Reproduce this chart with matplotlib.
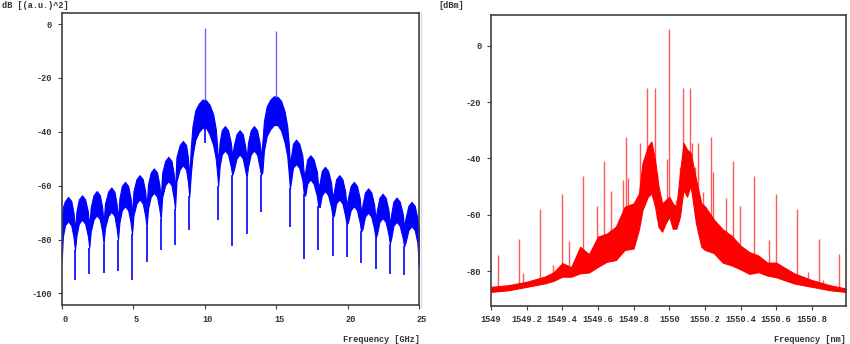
import numpy as np
import matplotlib
matplotlib.use('Agg')
import matplotlib.pyplot as plt
import matplotlib.transforms as mtransforms
from matplotlib.lines import Line2D

# RF spectrum (left): envelope of the noisy band at nulls, shoulders and lobe peaks
blue_freq = [
    0.00, 0.08, 0.23, 0.45, 0.67, 0.83, 0.93,
    1.03, 1.20, 1.42, 1.64, 1.83, 1.93,
    2.03, 2.23, 2.45, 2.67, 2.83, 2.93,
    3.03, 3.25, 3.47, 3.69, 3.84, 3.94,
    4.04, 4.21, 4.43, 4.65, 4.82, 4.92,
    5.02, 5.23, 5.45, 5.67, 5.84, 5.94,
    6.04, 6.23, 6.45, 6.67, 6.83, 6.93,
    7.03, 7.24, 7.46, 7.68, 7.83, 7.93,
    8.03, 8.26, 8.48, 8.70, 8.83, 8.93,
    9.03, 9.15, 9.35, 9.60, 9.85, 10.10, 10.35, 10.60, 10.78, 10.87, 10.95,
    11.05, 11.20, 11.42, 11.64, 11.83, 11.93,
    12.03, 12.23, 12.45, 12.67, 12.84, 12.94,
    13.04, 13.23, 13.45, 13.67, 13.84, 13.94,
    14.04, 14.15, 14.35, 14.60, 14.85, 15.10, 15.35, 15.60, 15.78, 15.88, 15.97,
    16.06, 16.18, 16.40, 16.62, 16.84, 16.94,
    17.04, 17.18, 17.40, 17.62, 17.85, 17.95,
    18.05, 18.20, 18.42, 18.64, 18.85, 18.95,
    19.05, 19.20, 19.42, 19.64, 19.83, 19.93,
    20.03, 20.22, 20.44, 20.66, 20.85, 20.95,
    21.05, 21.22, 21.44, 21.66, 21.86, 21.96,
    22.06, 22.23, 22.45, 22.67, 22.86, 22.96,
    23.06, 23.21, 23.43, 23.65, 23.86, 23.96,
    24.06, 24.26, 24.48, 24.70, 24.88, 25.00]
blue_upper = [
    -72.0, -68.0, -65.7, -64.2, -65.7, -70.2, -76.5,
    -69.6, -65.1, -63.6, -65.1, -69.6, -75.5,
    -68.0, -63.5, -62.0, -63.5, -68.0, -74.0,
    -66.7, -62.2, -60.7, -62.2, -66.7, -72.5,
    -64.6, -60.1, -58.6, -60.1, -64.6, -70.5,
    -62.1, -57.6, -56.1, -57.6, -62.1, -68.0,
    -59.6, -55.1, -53.6, -55.1, -59.6, -65.0,
    -55.3, -50.8, -49.3, -50.8, -55.3, -61.5,
    -49.4, -44.9, -43.4, -44.9, -49.4, -57.0,
    -46.0, -38.0, -32.0, -29.5, -28.0, -28.3, -30.0, -33.5, -39.0, -45.0, -52.0,
    -43.9, -39.4, -37.9, -39.4, -43.9, -49.0,
    -45.4, -40.9, -39.4, -40.9, -45.4, -50.0,
    -43.9, -39.4, -37.9, -39.4, -43.9, -49.0,
    -44.0, -36.0, -30.5, -28.0, -26.8, -27.0, -28.5, -32.5, -38.0, -44.0, -52.0,
    -48.9, -44.4, -42.9, -44.4, -48.9, -56.0,
    -54.7, -50.2, -48.7, -50.2, -54.7, -60.5,
    -59.0, -54.5, -53.0, -54.5, -59.0, -64.5,
    -62.1, -57.6, -56.1, -57.6, -62.1, -67.5,
    -64.6, -60.1, -58.6, -60.1, -64.6, -70.0,
    -67.0, -62.5, -61.0, -62.5, -67.0, -72.5,
    -69.0, -64.5, -63.0, -64.5, -69.0, -74.5,
    -70.4, -65.9, -64.4, -65.9, -70.4, -75.5,
    -72.0, -67.5, -66.0, -67.5, -72.0, -76.0]
blue_lower = [
    -88.0, -79.0, -74.7, -73.2, -74.7, -79.2, -84.0,
    -78.6, -74.1, -72.6, -74.1, -78.6, -83.0,
    -77.0, -72.5, -71.0, -72.5, -77.0, -81.5,
    -75.7, -71.2, -69.7, -71.2, -75.7, -80.0,
    -73.6, -69.1, -67.6, -69.1, -73.6, -78.0,
    -71.1, -66.6, -65.1, -66.6, -71.1, -75.5,
    -68.6, -64.1, -62.6, -64.1, -68.6, -72.5,
    -64.3, -59.8, -58.3, -59.8, -64.3, -68.5,
    -58.4, -53.9, -52.4, -53.9, -58.4, -64.0,
    -56.0, -49.0, -43.0, -40.0, -38.5, -38.5, -41.0, -45.0, -50.0, -55.0, -60.0,
    -52.9, -48.4, -46.9, -48.4, -52.9, -56.0,
    -54.4, -49.9, -48.4, -49.9, -54.4, -57.0,
    -52.9, -48.4, -46.9, -48.4, -52.9, -56.0,
    -55.0, -47.0, -41.5, -39.0, -37.5, -37.5, -39.5, -44.0, -49.0, -55.0, -61.0,
    -57.9, -53.4, -51.9, -53.4, -57.9, -63.0,
    -63.7, -59.2, -57.7, -59.2, -63.7, -67.5,
    -68.0, -63.5, -62.0, -63.5, -68.0, -71.5,
    -71.1, -66.6, -65.1, -66.6, -71.1, -74.5,
    -73.6, -69.1, -67.6, -69.1, -73.6, -77.0,
    -76.0, -71.5, -70.0, -71.5, -76.0, -79.5,
    -78.0, -73.5, -72.0, -73.5, -78.0, -81.5,
    -79.4, -74.9, -73.4, -74.9, -79.4, -82.5,
    -81.0, -76.5, -75.0, -76.5, -81.0, -90.0]
blue_null_freq = [0.93, 1.93, 2.93, 3.94, 4.92, 5.94, 6.93, 7.93, 8.93, 10.0,
                  10.95, 11.93, 12.94, 13.94, 15.97, 16.94, 17.95, 18.95,
                  19.93, 20.95, 21.96, 22.96, 23.96]
blue_null_depth = [-95.2, -92.7, -92.5, -91.7, -95.0, -88.3, -84.0, -82.2, -76.6, -44.0,
                   -72.9, -82.5, -77.8, -69.8, -75.4, -87.1, -84.0, -86.0,
                   -86.4, -88.7, -90.8, -92.7, -93.0]
blue_tone_freq = [10.0, 15.0]
blue_tone_level = [-1.6, -2.5]

# optical spectrum (right)
red_freq = [1549.00, 1549.10, 1549.20, 1549.30, 1549.35, 1549.40, 1549.45, 1549.50,
            1549.55, 1549.60, 1549.65, 1549.70, 1549.75, 1549.80, 1549.83, 1549.85,
            1549.88, 1549.90, 1549.92, 1549.94, 1549.96, 1549.98, 1550.00, 1550.02,
            1550.04, 1550.06, 1550.08, 1550.10, 1550.12, 1550.15, 1550.18, 1550.20,
            1550.25, 1550.30, 1550.35, 1550.40, 1550.45, 1550.50, 1550.55, 1550.60,
            1550.70, 1550.80, 1550.90, 1550.99]
red_upper = [-85.6, -85.0, -83.8, -82.0, -80.5, -77.2, -78.6, -71.4,
             -74.0, -67.8, -66.7, -64.3, -57.2, -56.0, -52.5, -41.7,
             -35.8, -34.0, -40.5, -50.0, -56.0, -54.8, -53.6, -56.0,
             -57.2, -45.3, -34.5, -36.9, -38.0, -47.4, -56.0, -57.0,
             -61.7, -65.2, -67.5, -71.0, -73.3, -74.5, -77.0, -77.0,
             -80.8, -83.2, -85.0, -86.2]
red_lower = [-87.4, -86.8, -85.6, -84.4, -83.5, -82.0, -82.0, -80.8,
             -80.5, -78.5, -76.7, -76.1, -72.5, -72.0, -65.2, -58.3,
             -53.6, -52.4, -57.0, -64.3, -66.0, -63.0, -60.7, -65.0,
             -64.9, -60.7, -51.2, -53.6, -49.6, -63.0, -71.4, -72.5,
             -73.6, -77.0, -78.0, -79.4, -81.0, -80.4, -81.6, -82.2,
             -84.4, -85.6, -86.8, -87.4]
red_line_freq = [1549.037, 1549.155, 1549.18, 1549.276, 1549.35, 1549.396, 1549.44,
                 1549.515, 1549.596, 1549.633, 1549.676, 1549.74, 1549.756, 1549.769,
                 1549.788, 1549.835, 1549.863, 1549.878, 1549.919, 1549.932, 1549.956,
                 1549.99, 1550.0, 1550.04, 1550.063, 1550.078, 1550.115, 1550.125,
                 1550.144, 1550.162, 1550.187, 1550.236, 1550.243, 1550.317, 1550.358,
                 1550.399, 1550.475, 1550.559, 1550.6, 1550.718, 1550.78, 1550.838,
                 1550.86, 1550.955]
red_line_level = [-74.3, -68.7, -80.6, -58.1, -77.8, -52.6, -69.5,
                  -46.1, -56.9, -40.9, -51.6, -47.7, -32.3, -47.1,
                  -58.3, -34.6, -39.4, -14.9, -14.9, -45.3, -53.6,
                  -40.2, 5.9, -54.8, -43.0, -14.9, -14.9, -34.6,
                  -43.0, -34.6, -52.0, -32.3, -45.0, -54.0, -41.0,
                  -57.0, -46.1, -69.0, -52.5, -58.0, -80.3, -68.7,
                  -83.2, -74.0]

plt.rcParams['font.family'] = ['Liberation Mono', 'DejaVu Sans Mono']
plt.rcParams['font.weight'] = 'bold'
plt.rcParams['axes.unicode_minus'] = False
plt.rcParams['font.size'] = 6.2

W, H = 850, 344
fig = plt.figure(figsize=(W / 100, H / 100), dpi=100)
ax1 = fig.add_axes([61.7 / W, 39 / H, (419 - 61.7) / W, (305 - 13.3) / H])
ax2 = fig.add_axes([491 / W, 38.3 / H, (845.7 - 491) / W, (305.7 - 14.7) / H])

# left: RF spectrum
ax1.fill_between(blue_freq, blue_lower, blue_upper, color='blue', lw=0.8)
null_base = np.interp(blue_null_freq, blue_freq, blue_lower)
ax1.vlines(blue_null_freq, blue_null_depth, null_base, color='blue', lw=1.2)
tone_base = np.interp(blue_tone_freq, blue_freq, blue_upper)
ax1.vlines(blue_tone_freq, tone_base, blue_tone_level, color=(0.4, 0.4, 1.0), lw=1.0)
ax1.set_xlim(0, 25)
ax1.set_ylim(-104.3, 4)
ax1.set_xticks([0, 5, 10, 15, 20, 25])
ax1.set_yticks([0, -20, -40, -60, -80, -100])

# right: optical spectrum
ax2.fill_between(red_freq, red_lower, red_upper, color='red', lw=0.8)
line_base = np.interp(red_line_freq, red_freq, red_lower)
ax2.vlines(red_line_freq, line_base, red_line_level, color='red', alpha=0.65, lw=1.0)
ax2.set_xlim(1549, 1550.99)
ax2.set_ylim(-92.3, 11)
xt = [1549.0, 1549.2, 1549.4, 1549.6, 1549.8, 1550.0, 1550.2, 1550.4, 1550.6, 1550.8]
ax2.set_xticks(xt)
ax2.set_xticklabels(['%g' % v for v in xt])
ax2.set_yticks([0, -20, -40, -60, -80])

for ax in (ax1, ax2):
    for s in ax.spines.values():
        s.set_color('#404040')
        s.set_linewidth(1.2)
    ax.tick_params(direction='out', length=3, width=0.8, color='#404040',
                   labelcolor='#333333', pad=4)

# GHz labels sit a few pixels right of their ticks
offset = mtransforms.ScaledTranslation(0.03, 0, fig.dpi_scale_trans)
for lbl in ax1.get_xticklabels():
    lbl.set_transform(lbl.get_transform() + offset)

fig.text(2 / W, 1 - 6 / H, 'dB [(a.u.)^2]', ha='left', va='center', color='#333333')
fig.text(438 / W, 1 - 6 / H, '[dBm]', ha='left', va='center', color='#333333')
fig.text(420 / W, 1 - 339 / H, 'Frequency [GHz]', ha='right', va='center', color='#333333')
fig.text(846 / W, 1 - 340 / H, 'Frequency [nm]', ha='right', va='center', color='#333333')

fig.add_artist(Line2D([421 / W, 421 / W], [1 - 13 / H, 1 - 307 / H],
                      transform=fig.transFigure, color='#dddddd', lw=1))

fig.savefig('out.png', dpi=100)
